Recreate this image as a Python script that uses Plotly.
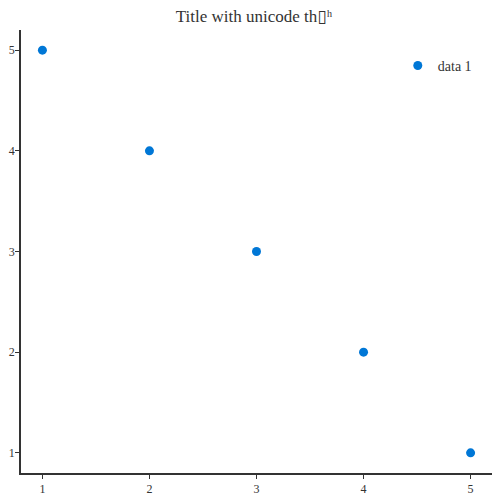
import plotly.graph_objects as go

x_vals = [1, 2, 3, 4, 5]
y_vals = [5, 4, 3, 2, 1]
series_name = "data 1"
title_text = "Title with unicode th\u25AF\u02B0"
tick_vals = [1, 2, 3, 4, 5]

fig = go.Figure()
fig.add_trace(go.Scatter(
    x=x_vals, y=y_vals, mode="markers", name=series_name,
    marker=dict(color="#0077D6", size=9),
))

font_family = "Liberation Serif, DejaVu Serif, serif"
axis_common = dict(
    showgrid=False, zeroline=False, showline=True, linecolor="#333333", linewidth=1.5,
    ticks="outside", ticklen=4, tickwidth=1, tickcolor="#333333",
    tickvals=tick_vals, tickfont=dict(size=12, color="#333333", family=font_family),
    mirror=False, automargin=False,
)
fig.update_xaxes(range=[0.8, 5.2], **axis_common)
fig.update_yaxes(range=[0.8, 5.2], ticklabelstandoff=-2, **axis_common)

fig.update_layout(
    width=492, height=492,
    margin=dict(l=13, r=8, t=22, b=27, autoexpand=False),
    plot_bgcolor="white", paper_bgcolor="white",
    font=dict(family=font_family, color="#333333"),
    title=dict(text=title_text, x=0.5, xanchor="center", y=0.983, yanchor="middle",
               font=dict(size=17, family=font_family, color="#333333")),
    showlegend=True,
    legend=dict(x=0.8, y=0.919, xanchor="left", yanchor="middle",
                bgcolor="rgba(0,0,0,0)", font=dict(size=14, family=font_family)),
)

fig.write_html("out.html")
